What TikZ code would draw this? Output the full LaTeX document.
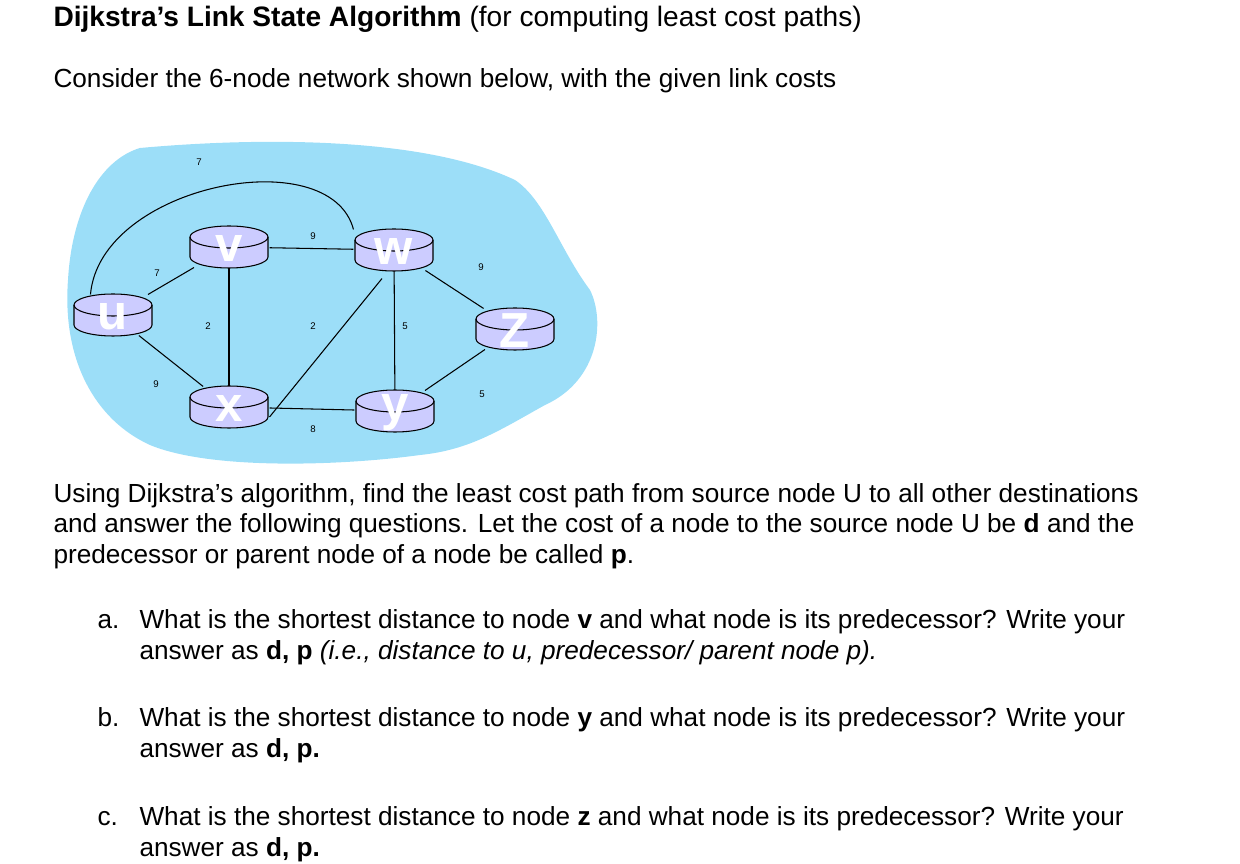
\documentclass[tikz,border=0pt]{standalone}
\usepackage{fontspec}
\setmainfont{Liberation Sans}
\setsansfont{Liberation Sans}
\usetikzlibrary{positioning,calc}
\definecolor{cloudblue}{RGB}{156,222,248}
\definecolor{routerfill}{RGB}{204,204,255}

\begin{document}
\begin{tikzpicture}[
    x = 0.02cm, y = -0.02cm, % pixel grid of the page
    semithick
    ]

    \tikzset{
    hub/.style = {minimum width = 1.6cm, minimum height = 0.8cm, inner sep = 0pt},
    cost/.style = {font = \fontsize{5.5}{6}\selectfont},
    link/.style = {draw = black, semithick},
    body/.style = {font = \fontsize{14.9}{17.1}\selectfont, anchor = base west, align = left, inner sep = 0pt}
    }
    \useasboundingbox (0,0) rectangle (1240,864);

    % the cloud
    \fill[cloudblue] (140,148) .. controls (250,138) and (420,135) .. (515,180)
        .. controls (545,200) and (560,250) .. (590,290)
        .. controls (605,320) and (600,380) .. (545,405)
        .. controls (500,430) and (470,450) .. (420,455)
        .. controls (340,466) and (210,470) .. (150,445)
        .. controls (95,420) and (62,360) .. (68,280)
        .. controls (72,210) and (100,160) .. (140,148) -- cycle;

    % routers (only as anchors here)
    \node[hub] (u) at (113,315) {};
    \node[hub] (v) at (229,247) {};
    \node[hub] (w) at (394,250) {};
    \node[hub] (z) at (515,329) {};
    \node[hub] (x) at (229,407) {};
    \node[hub] (y) at (395,411) {};

    \draw[link] (u) -- (v);
    \draw[link] (u) -- (x);
    \draw[link] (v) -- (x);
    \draw[link] (v) -- (w);
    \draw[link] ($(x.east)+(0,10)$) -- ($(w.south)+(-12,8)$);
    \draw[link] (w) -- (y);
    \draw[link] (x) -- (y);
    \draw[link] (w) -- (z);
    \draw[link] (y) -- (z);
    \draw[link] (u.north west) ++(18,0) .. controls (100,185) and (330,140) .. (w.north west);

    \foreach \n/\t in {u/u,v/v,w/w,z/Z,x/x,y/y}{
      \begin{scope}[shift={(\n)}, x = 1cm, y = 1cm]
        \filldraw[fill = routerfill, draw = black, semithick] (-0.78,0.2) -- (-0.78,-0.2)
          arc[start angle = 180, end angle = 360, x radius = 0.78, y radius = 0.22]
          -- (0.78,0.2)
          arc[start angle = 0, end angle = 180, x radius = 0.78, y radius = 0.22] -- cycle;
        \draw[semithick] (-0.78,0.2) arc[start angle = 180, end angle = 360, x radius = 0.78, y radius = 0.22];
        \node[white, font = \fontsize{28}{28}\selectfont\bfseries] at (0,-0.04) {\t};
      \end{scope}
    }

    % link costs
    \node[cost] at (199,162) {7};
    \node[cost] at (157,273) {7};
    \node[cost] at (313,236) {9};
    \node[cost] at (208,326) {2};
    \node[cost] at (313,326) {2};
    \node[cost] at (405,326) {5};
    \node[cost] at (481,267) {9};
    \node[cost] at (482,394) {5};
    \node[cost] at (156,384) {9};
    \node[cost] at (313,429) {8};

    % text
    \node[body, font = \fontsize{16}{18}\selectfont] (title) at (53,27) {\textbf{Dijkstra’s Link State Algorithm} (for computing least cost paths)};
    \node[body] (intro) at (53,88) {Consider the 6-node network shown below, with the given link costs};
    \node[body] (task) at (53,563) {Using Dijkstra's algorithm, find the least cost path from source node U to all other destinations\\
      and answer the following questions. Let the cost of a node to the source node U be \textbf{d} and the\\
      predecessor or parent node of a node be called \textbf{p}.};
    \node[body] (qa) at (97,628) {a.};
    \node[body] (qatext) at (139,659) {What is the shortest distance to node \textbf{v} and what node is its predecessor? Write your\\
      answer as \textbf{d, p} \textit{(i.e., distance to u, predecessor/ parent node p).}};
    \node[body] (qb) at (97,726) {b.};
    \node[body] (qbtext) at (139,757) {What is the shortest distance to node \textbf{y} and what node is its predecessor? Write your\\
      answer as \textbf{d, p.}};
    \node[body] (qc) at (97,825) {c.};
    \node[body] (qctext) at (139,856) {What is the shortest distance to node \textbf{z} and what node is its predecessor? Write your\\
      answer as \textbf{d, p.}};
\end{tikzpicture}
\end{document}
